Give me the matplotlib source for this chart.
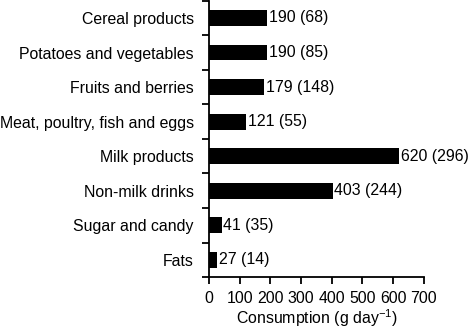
import matplotlib
matplotlib.use('Agg')
import matplotlib.pyplot as plt
import numpy as np

categories = ['Cereal products', 'Potatoes and vegetables', 'Fruits and berries',
              'Meat, poultry, fish and eggs', 'Milk products', 'Non-milk drinks',
              'Sugar and candy', 'Fats']
means = [190, 190, 179, 121, 620, 403, 41, 27]
sds = [68, 85, 148, 55, 296, 244, 35, 14]

plt.rcParams['font.family'] = ['Liberation Sans', 'DejaVu Sans']
plt.rcParams['mathtext.fontset'] = 'custom'
plt.rcParams['mathtext.rm'] = 'Liberation Sans'
plt.rcParams['mathtext.it'] = 'Liberation Sans'

fs = 11.4

fig = plt.figure(figsize=(4.74, 3.3), dpi=100)
ax = fig.add_axes([0.441, 0.16, 0.453, 0.838])

y = np.arange(len(categories))
ax.barh(y, means, height=0.46, color='black')
for yi, m, s in zip(y, means, sds):
    ax.text(m + 6, yi, f'{m} ({s})', va='center', ha='left', fontsize=fs)

ax.set_ylim(len(categories) - 0.5, -0.5)
ax.set_xlim(0, 700)
ax.set_xticks(range(0, 701, 100))
ax.set_yticks(y)
ax.set_yticklabels(categories, fontsize=fs)
ax.tick_params(axis='y', length=0, pad=11)
ax.set_yticks(np.arange(-0.5, len(categories), 1), minor=True)
ax.tick_params(axis='y', which='minor', length=5, width=1.3, direction='out')
ax.tick_params(axis='x', length=5, width=1.3, direction='out', labelsize=fs, pad=5)
ax.set_xlabel('Consumption (g day$^{-1}$)', fontsize=fs, labelpad=1)

ax.spines['top'].set_visible(False)
ax.spines['right'].set_visible(False)
ax.spines['left'].set_linewidth(1.3)
ax.spines['bottom'].set_linewidth(1.3)

fig.savefig('out.png', dpi=100)
